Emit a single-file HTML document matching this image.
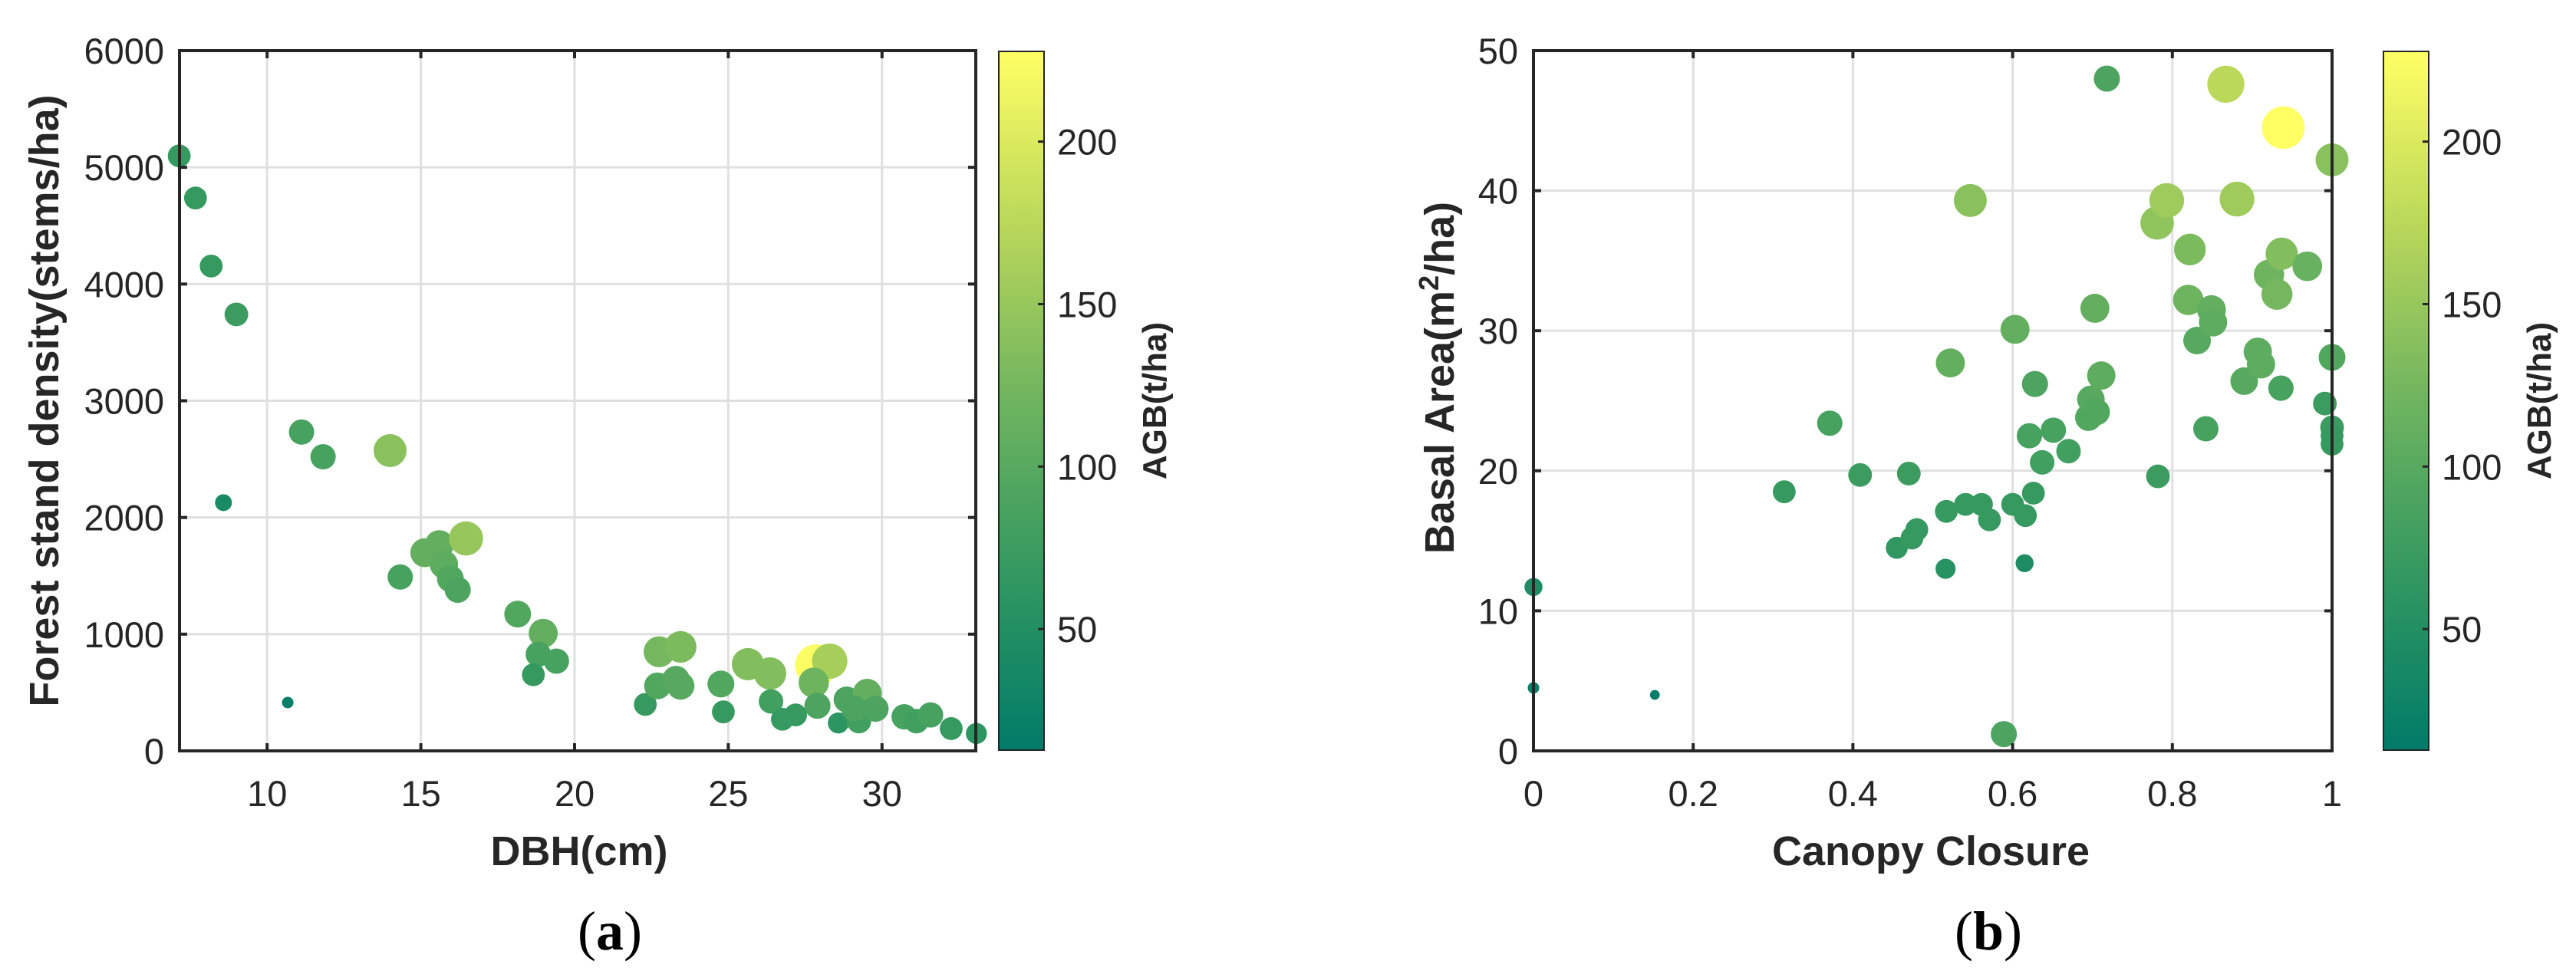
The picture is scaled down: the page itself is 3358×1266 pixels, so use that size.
<!DOCTYPE html>
<html><head><meta charset="utf-8">
<style>
html,body{margin:0;padding:0;background:#fff;}
svg{display:block;font-family:"Liberation Sans",Arial,sans-serif;}
</style></head>
<body>
<svg id="fig" width="3358" height="1266" viewBox="0 0 3358 1266" xmlns="http://www.w3.org/2000/svg">
<defs>
<linearGradient id="cmap" x1="0" y1="1" x2="0" y2="0">
<stop offset="0" stop-color="rgb(0,123,104)"/>
<stop offset="0.25" stop-color="rgb(50,152,96)"/>
<stop offset="0.5" stop-color="rgb(110,180,95)"/>
<stop offset="0.75" stop-color="rgb(185,215,90)"/>
<stop offset="1" stop-color="rgb(255,255,100)"/>
</linearGradient>
</defs>
</svg>
<script>
// Panel (a) data
const aDBH = [7.14,7.67,8.18,9.0,8.58,10.67,11.12,11.82,14.0,14.33,15.13,15.6,15.75,15.96,16.2,16.47,18.15,18.98,18.82,18.66,19.41,22.3,22.75,23.45,22.7,23.3,23.45,24.76,24.84,25.64,26.36,26.39,26.76,27.19,27.86,28.3,27.78,27.9,28.58,28.85,29.52,29.25,29.79,29.1,30.72,31.12,31.58,32.25,33.07];
const aDensity = [5098,4737,4154,3740,2127,414,2732,2520,2573,1490,1698,1767,1597,1475,1380,1820,1172,1008,828,652,769,398,849,891,557,610,557,573,334,743,663,424,271,308,732,769,584,387,239,440,493,255,361,361,292,255,308,191,149];
const aAGB = [70,70,70,75,40,20,85,85,140,85,110,110,105,95,90,150,95,110,85,70,85,70,125,130,95,100,100,95,70,135,135,80,70,70,225,160,120,90,60,90,110,80,90,90,85,80,85,70,60];
// Panel (b) data
const bCC = [0,0,0.152,0.314,0.371,0.409,0.455,0.47,0.474,0.48,0.516,0.517,0.522,0.541,0.547,0.561,0.571,0.589,0.6,0.603,0.615,0.616,0.626,0.621,0.628,0.637,0.651,0.670,0.695,0.698,0.705,0.703,0.711,0.718,0.782,0.781,0.793,0.822,0.820,0.831,0.842,0.849,0.851,0.867,0.881,0.89,0.907,0.911,0.921,0.931,0.936,0.937,0.939,0.969,0.991,1.0,1.0,1.0,1.0,1.0];
const bBA = [11.7,4.5,4.0,18.5,23.4,19.7,14.5,19.8,15.2,15.8,13.0,17.1,27.7,17.6,39.3,17.6,16.5,1.2,17.6,30.1,13.4,16.8,18.4,22.5,26.2,20.6,22.9,21.4,23.8,25.1,24.2,31.6,26.8,48.0,19.6,37.7,39.3,35.8,32.2,29.3,23.0,31.5,30.6,47.6,39.4,26.4,28.5,27.6,34.0,32.6,25.9,35.5,44.5,34.6,24.8,42.2,28.1,23.1,22.5,21.9];
const bAGB = [45,20,15,70,85,75,65,75,70,70,55,70,110,70,140,70,70,90,70,110,45,70,70,85,90,80,85,80,95,100,95,110,105,90,75,145,155,130,120,100,85,110,105,175,155,100,105,105,120,125,85,135,230,115,75,140,95,75,70,70];
// Tick labels
const aXTicks = [10,15,20,25,30];
const aYTicks = [0,1000,2000,3000,4000,5000,6000];
const bXTicks = [0,0.2,0.4,0.6,0.8,1];
const bXTickLabels = ["0","0.2","0.4","0.6","0.8","1"];
const bYTicks = [0,10,20,30,40,50];
const cbTicks = [50,100,150,200];

const NS = "http://www.w3.org/2000/svg";
const svg = document.getElementById('fig');
const CMIN = 12.5, CMAX = 228;
const stops = [[0,[0,123,104]],[0.25,[50,152,96]],[0.5,[110,180,95]],[0.75,[185,215,90]],[1,[255,255,100]]];
function cmap(v){
  let t = Math.max(0, Math.min(1, (v - CMIN) / (CMAX - CMIN)));
  for (let i = 0; i < stops.length - 1; i++) {
    const [t0,c0] = stops[i], [t1,c1] = stops[i+1];
    if (t <= t1) {
      const f = (t - t0) / (t1 - t0);
      return 'rgb(' + c0.map((c,k) => Math.round(c + (c1[k]-c)*f)).join(',') + ')';
    }
  }
  return 'rgb(255,255,100)';
}
function el(tag, attrs, parent){
  const e = document.createElementNS(NS, tag);
  for (const k in attrs) e.setAttribute(k, attrs[k]);
  (parent || svg).appendChild(e);
  return e;
}
function txt(s, attrs, parent){ const t = el('text', attrs, parent); t.textContent = s; return t; }

function panel(o){
  const g = el('g', {});
  
  
  const sx = v => o.L + (v - o.xmin) / (o.xmax - o.xmin) * (o.R - o.L);
  const sy = v => o.B - (v - o.ymin) / (o.ymax - o.ymin) * (o.B - o.T);
  // grid
  o.xticks.forEach(v => {
    const x = sx(v);
    const l = el('line', {x1:x, x2:x, y1:o.T, y2:o.B, stroke:'#e0e0e0', 'stroke-width':3}, g);
    
    
  });
  o.yticks.forEach(v => {
    const y = sy(v);
    const l = el('line', {x1:o.L, x2:o.R, y1:y, y2:y, stroke:'#e0e0e0', 'stroke-width':3}, g);
    
    
  });
  // points
  for (let i = 0; i < o.xs.length; i++) {
    const r = Math.max(5, 1.9 * Math.sqrt(o.cs[i]) - 1);
    const c = el('circle', {cx:sx(o.xs[i]), cy:sy(o.ys[i]), r:r, fill:cmap(o.cs[i])}, g);
    
    
  }
  // axes box
  const box = el('rect', {x:o.L, y:o.T, width:o.R-o.L, height:o.B-o.T, fill:'none', stroke:'#262626', 'stroke-width':4}, g);
  
  
  // ticks and labels
  o.xticks.forEach((v,i) => {
    const x = sx(v);
    el('line', {x1:x, x2:x, y1:o.B, y2:o.B-10, stroke:'#262626', 'stroke-width':4}, g);
    el('line', {x1:x, x2:x, y1:o.T, y2:o.T+10, stroke:'#262626', 'stroke-width':4}, g);
    const t = txt(o.xlabels ? o.xlabels[i] : String(v), {x:x, y:o.B+72, 'font-size':47, fill:'#262626', 'text-anchor':'middle'}, g);
    
    
  });
  o.yticks.forEach(v => {
    const y = sy(v);
    el('line', {x1:o.L, x2:o.L+10, y1:y, y2:y, stroke:'#262626', 'stroke-width':4}, g);
    el('line', {x1:o.R, x2:o.R-10, y1:y, y2:y, stroke:'#262626', 'stroke-width':4}, g);
    const t = txt(String(v), {x:o.L-20, y:y+17, 'font-size':47, fill:'#262626', 'text-anchor':'end'}, g);
    
    
  });
  const xt = txt(o.xtitle, {x:o.xtX, y:1128, 'font-size':54, 'font-weight':'bold', fill:'#262626', 'text-anchor':'middle'}, g);
  
  
  const yt = el('text', {x:0, y:0, transform:'translate(' + o.ytX + ',' + ((o.T+o.B)/2 + o.ytDy) + ') rotate(-90)', 'font-size':54, 'font-weight':'bold', fill:'#262626', 'text-anchor':'middle'}, g);
  yt.innerHTML = o.ytitle;
  
  
  // colorbar
  const cb = el('rect', {x:o.cbL, y:o.T+1, width:59, height:o.B-o.T-2, fill:'url(#cmap)', stroke:'#262626', 'stroke-width':2}, g);
  
  
  const cy = v => o.B - (v - CMIN) / (CMAX - CMIN) * (o.B - o.T);
  cbTicks.forEach(v => {
    const y = cy(v);
    el('line', {x1:o.cbL+59, x2:o.cbL+51, y1:y, y2:y, stroke:'#262626', 'stroke-width':3}, g);
    const t = txt(String(v), {x:o.cbL+76, y:y+17, 'font-size':47, fill:'#262626'}, g);
    
    
  });
  const ct = txt('AGB(t/ha)', {x:0, y:0, transform:'translate(' + (o.cbL+218) + ',' + ((o.T+o.B)/2) + ') rotate(-90)', 'font-size':44, 'font-weight':'bold', fill:'#262626', 'text-anchor':'middle'}, g);
  
  
  const cap = el('text', {x:o.capX, y:1238, 'font-size':72, 'font-family':'"Liberation Serif",serif', fill:'#000', 'text-anchor':'middle'}, g);
  cap.innerHTML = '(<tspan font-weight="bold">' + o.cap + '</tspan>)';
  
  
}

panel({name:'panel-a', L:234, R:1272, T:66, B:979, xmin:7.15, xmax:33.05, ymin:0, ymax:6000,
  xs:aDBH, ys:aDensity, cs:aAGB, xticks:aXTicks, yticks:aYTicks,
  xtitle:'DBH(cm)', xtX:755, ytitle:'Forest stand density(stems/ha)', ytX:76, ytDy:0,
  cbL:1302, capX:795, cap:'a'});
panel({name:'panel-b', L:1999, R:3040, T:66, B:979, xmin:0, xmax:1, ymin:0, ymax:50,
  xs:bCC, ys:bBA, cs:bAGB, xticks:bXTicks, xlabels:bXTickLabels, yticks:bYTicks,
  xtitle:'Canopy Closure', xtX:2517, ytitle:'Basal Area(m<tspan dy="-20" font-size="36">2</tspan><tspan dy="20">/ha)</tspan>', ytX:1895, ytDy:-30,
  cbL:3107, capX:2592, cap:'b'});
</script>
</body></html>
